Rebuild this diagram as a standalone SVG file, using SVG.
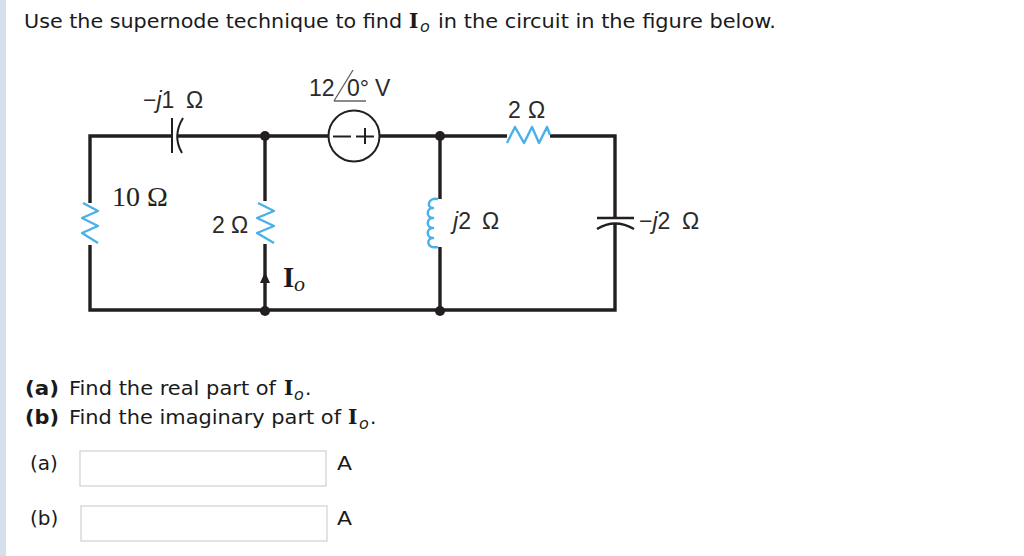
<svg xmlns="http://www.w3.org/2000/svg" width="1024" height="556" viewBox="0 0 1024 556">
<style>
text{fill:#1a1a1a}
.q{font-family:"DejaVu Sans",Verdana,sans-serif;font-size:20px}
.b{font-weight:bold}
.m{font-family:"DejaVu Serif","Liberation Serif",serif;font-weight:bold;font-size:20px}
.i{font-family:"DejaVu Sans",sans-serif;font-style:italic;font-size:16px}
.l{font-family:"Liberation Sans",Arial,sans-serif;font-size:23px;fill:#2a2a2a}
.s{font-family:"Liberation Serif",serif;font-size:28px;fill:#222}
.w{fill:none;stroke:#231f20;stroke-width:3.4}
.t{fill:none;stroke:#231f20;stroke-width:2}
.r{fill:none;stroke:#4ab0ea;stroke-width:2.4;stroke-linejoin:round}
.d{fill:#231f20}
.f{fill:#fff;stroke:#d0d0d0;stroke-width:1.2}
</style>
<rect x="0" y="0" width="1024" height="556" fill="#fff"/>
<rect x="0" y="0" width="6" height="556" fill="#d6e0ec"/>

<g id="question">
<text class="q" x="24" y="28" textLength="378" lengthAdjust="spacingAndGlyphs">Use the supernode technique to find</text>
<text class="m" x="409" y="28">I</text><text class="i" x="420" y="32">o</text>
<text class="q" x="438" y="28" textLength="338" lengthAdjust="spacingAndGlyphs">in the circuit in the figure below.</text>
</g>

<g id="connectors">
<path class="w" d="M90 203V136H172M177 136H354M378 136H507M550 136H615V218M615 224V310H90V245"/>
<path class="w" d="M265 136V201M265 244V310"/>
<path class="w" d="M440 136V199M440 247V310"/>
</g>

<g id="junctions">
<circle class="d" cx="265" cy="136" r="5"/>
<circle class="d" cx="440" cy="136" r="5"/>
<circle class="d" cx="265" cy="311" r="5"/>
<circle class="d" cx="440" cy="311" r="5"/>
</g>

<g id="r10">
<path class="r" d="M83 203L98 211L82 218L98 226L82 233L98 243"/>
<text class="s" x="112" y="206">10 Ω</text>
</g>
<g id="r2-mid">
<path class="r" d="M258 203L274 211L257 218L274 226L257 233L274 243"/>
<text class="l" x="212" y="233">2</text><text class="l" x="231" y="233">Ω</text>
</g>
<g id="c1">
<path class="t" d="M172 118V153M183 118Q172 136 182 153" stroke-width="2.4"/>
<text class="l" x="143" y="108">−<tspan font-style="italic">j</tspan>1</text><text class="l" x="186" y="108">Ω</text>
</g>
<g id="source">
<circle cx="354" cy="136" r="25.5" fill="#fff" stroke="#231f20" stroke-width="2"/>
<path d="M333 136.500H351M356 136.500H374M365 128V144" class="t" stroke-width="1.8"/>
<path d="M334 101H366M334 101L353 70" fill="none" stroke="#666" stroke-width="1.4"/>
<text class="l" x="309" y="96">12</text>
<text class="l" x="347" y="96">0°</text>
<text class="l" x="375" y="96">V</text>
</g>
<g id="io">
<path class="d" d="M265 272L270 283H260Z"/>
<text font-family="Liberation Serif" font-weight="bold" font-size="29" x="283" y="287">I</text>
<text font-family="Liberation Serif" font-style="italic" font-size="22" x="294" y="291">o</text>
</g>
<g id="r2-top">
<path class="r" d="M507 143L515 127L524 143L532 127L539 143L547 127L550 135"/>
<text class="l" x="508" y="118">2</text><text class="l" x="528" y="118">Ω</text>
</g>
<g id="l1">
<path class="r" d="M438 199C428 197 426 208 433 208C426 208 426 218 433 218C426 218 426 228 433 228C426 228 426 238 433 238C426 238 426 249 438 247"/>
<text class="l" x="453" y="229"><tspan font-style="italic">j</tspan>2</text><text class="l" x="482" y="229">Ω</text>
</g>
<g id="c2">
<path d="M597 218H634M597 229Q615 218 634 229" fill="none" stroke="#231f20" stroke-width="2.4"/>
<text class="l" x="639" y="229">−<tspan font-style="italic">j</tspan>2</text><text class="l" x="682" y="229">Ω</text>
</g>

<g id="parts">
<text class="q b" x="25" y="395" textLength="34" lengthAdjust="spacingAndGlyphs">(a)</text>
<text class="q" x="69" y="395" textLength="207" lengthAdjust="spacingAndGlyphs">Find the real part of</text>
<text class="m" x="284" y="395">I</text><text class="i" x="294" y="400">o</text><text class="q" x="305" y="395">.</text>
<text class="q b" x="25" y="424" textLength="34" lengthAdjust="spacingAndGlyphs">(b)</text>
<text class="q" x="69" y="424" textLength="272" lengthAdjust="spacingAndGlyphs">Find the imaginary part of</text>
<text class="m" x="348" y="424">I</text><text class="i" x="359" y="429">o</text><text class="q" x="370" y="424">.</text>
</g>

<g id="answer-a">
<text class="q" x="30" y="470">(a)</text>
<rect class="f" x="80" y="451" width="246" height="35"/>
<text class="q" x="337" y="470" textLength="15" lengthAdjust="spacingAndGlyphs">A</text>
</g>
<g id="answer-b">
<text class="q" x="30" y="525">(b)</text>
<rect class="f" x="81" y="506" width="246" height="35"/>
<text class="q" x="337" y="525" textLength="15" lengthAdjust="spacingAndGlyphs">A</text>
</g>
</svg>
